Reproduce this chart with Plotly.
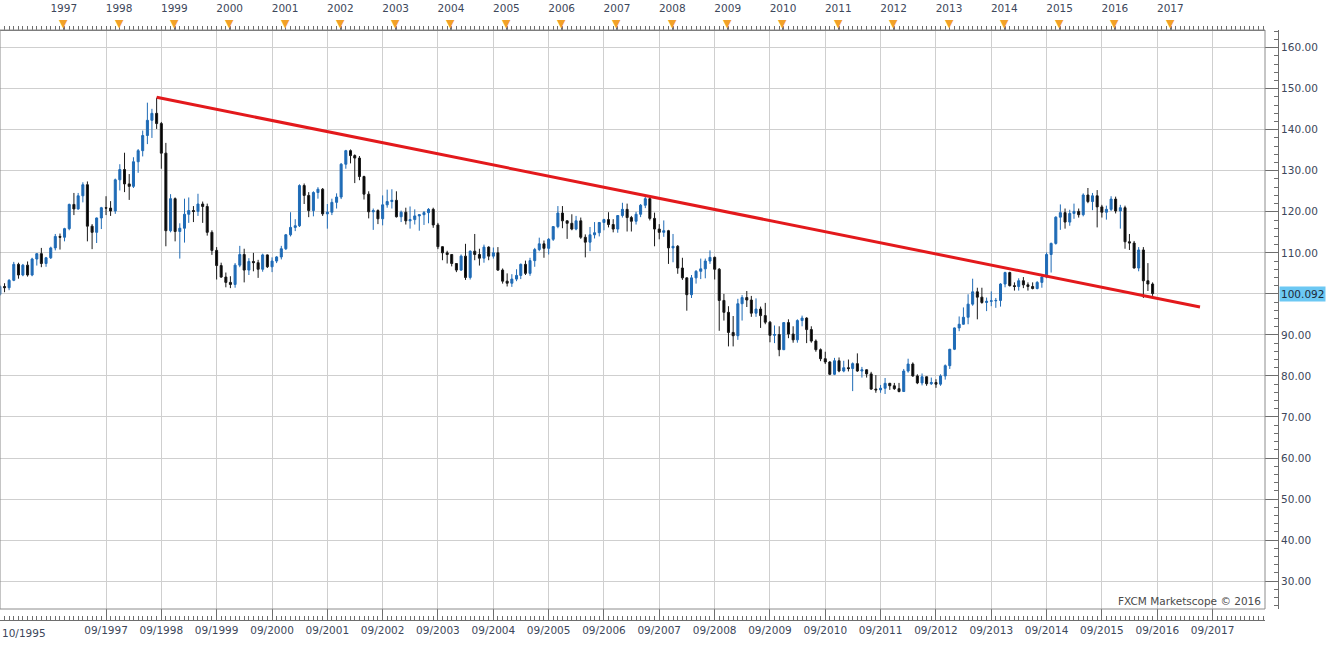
import plotly.graph_objects as go
import pandas as pd

# ---------------- data (monthly USD/JPY candles, Oct 1995 - Aug 2016) ----------------
months = pd.date_range("1995-10-01", periods=251, freq="MS")

opens = [
    99.9, 101.8, 101.5,
    103.3, 107.2, 104.6, 107.0, 104.6, 108.5, 109.8, 107.4, 108.8, 111.2, 114.0, 113.8,
    115.9, 121.8, 120.7, 123.9, 126.6, 116.5, 115.0, 118.5, 121.0, 120.9, 120.2, 127.8,
    130.3, 126.8, 126.2, 132.2, 134.9, 138.6, 142.3, 144.0, 141.5, 134.3, 115.4, 123.2,
    115.2, 116.0, 119.4, 120.3, 120.1, 121.9, 121.3, 115.0, 110.6, 106.9, 104.1, 102.8,
    102.3, 107.0, 109.6, 105.8, 107.9, 107.6, 106.0, 109.5, 106.6, 108.0, 109.0, 111.0,
    114.4, 116.2, 116.6, 126.4, 124.0, 120.3, 124.7, 125.5, 119.5, 119.9, 122.3, 123.6,
    131.6, 134.9, 133.7, 133.1, 128.6, 124.3, 120.0, 120.3, 118.3, 121.7, 122.5, 122.8,
    118.8, 119.9, 117.8, 118.1, 119.0, 119.3, 119.8, 120.6, 116.8, 111.5, 110.0, 109.6,
    107.4, 105.8, 109.2, 104.0, 110.4, 109.6, 108.7, 111.4, 109.2, 110.0, 105.8, 103.1,
    102.6, 103.6, 104.5, 107.2, 105.0, 108.1, 110.8, 112.2, 111.1, 113.3, 116.4, 119.7,
    117.8, 117.2, 115.8, 117.8, 113.8, 112.6, 114.4, 114.9, 117.4, 118.1, 116.9, 115.8,
    119.1, 120.6, 118.6, 117.7, 119.4, 121.6, 123.2, 118.4, 115.8, 115.0, 115.4, 111.2,
    111.6, 106.3, 103.9, 99.8, 103.9, 105.5, 106.1, 108.0, 108.9, 106.0, 98.4, 95.5,
    90.6, 89.8, 97.6, 99.1, 98.5, 95.3, 96.3, 94.7, 93.1, 89.9, 90.1, 86.4,
    93.0, 90.2, 88.8, 93.5, 94.1, 91.3, 88.5, 86.4, 84.2, 83.4, 80.4, 83.7,
    81.2, 82.0, 81.8, 83.0, 81.2, 81.5, 80.5, 76.8, 76.6, 77.0, 78.2, 77.6,
    76.9, 76.2, 81.2, 82.9, 80.0, 78.3, 79.8, 78.1, 78.4, 78.0, 80.0, 82.5,
    86.5, 91.7, 92.6, 94.3, 97.5, 100.5, 99.2, 97.9, 98.2, 98.3, 98.4, 102.4,
    105.2, 102.0, 101.8, 103.2, 102.2, 101.8, 101.3, 102.8, 104.1, 109.6, 112.3, 118.7,
    119.8, 117.5, 119.6, 120.1, 119.3, 124.1, 122.5, 123.9, 121.2, 119.9, 120.6, 123.1,
    120.2, 121.0, 112.7, 112.4, 106.3, 110.7, 103.2, 102.4,
]

highs = [
    102.2, 102.6, 103.6,
    107.8, 107.6, 107.3, 107.9, 108.8, 109.9, 111.2, 109.0, 111.5, 114.6, 114.7, 116.1,
    122.0, 124.6, 124.6, 127.2, 127.4, 117.0, 118.6, 121.2, 123.8, 122.6, 128.1, 131.6,
    134.4, 129.2, 133.3, 135.3, 139.8, 146.6, 145.1, 147.8, 141.9, 136.8, 124.3, 123.5,
    117.2, 123.2, 123.5, 121.4, 124.4, 122.5, 122.0, 115.5, 111.4, 107.6, 105.2, 104.3,
    107.5, 111.7, 111.0, 108.7, 110.0, 108.3, 109.8, 109.6, 108.9, 109.2, 111.7, 114.6,
    119.9, 118.2, 126.7, 126.9, 124.8, 125.0, 126.0, 125.8, 121.9, 123.2, 124.5, 131.9,
    135.1, 135.2, 134.0, 133.6, 128.8, 125.0, 120.8, 120.6, 124.0, 125.4, 125.5, 125.0,
    120.3, 121.0, 121.3, 120.6, 119.4, 120.2, 120.9, 121.0, 117.3, 111.6, 110.5, 109.7,
    107.5, 109.6, 112.2, 110.6, 114.6, 111.0, 112.0, 111.6, 111.3, 111.4, 106.2, 105.0,
    104.8, 106.0, 107.4, 108.1, 108.8, 111.2, 113.7, 113.0, 113.6, 116.5, 121.4, 121.4,
    117.9, 119.4, 119.0, 118.6, 114.5, 116.3, 117.5, 117.5, 118.3, 119.9, 118.2, 119.2,
    122.2, 122.0, 119.0, 120.0, 121.9, 124.1, 123.7, 119.8, 117.0, 117.9, 115.6, 114.6,
    111.9, 108.8, 104.0, 104.6, 105.8, 108.6, 108.6, 110.6, 109.1, 106.3, 100.0, 97.0,
    94.6, 98.8, 99.7, 100.7, 99.5, 98.9, 96.9, 97.8, 93.4, 92.3, 92.1, 93.1,
    93.8, 92.1, 93.8, 94.7, 94.3, 92.1, 88.9, 86.7, 85.9, 83.6, 84.4, 84.5,
    83.7, 84.0, 83.3, 85.5, 82.2, 81.6, 81.0, 80.2, 77.8, 79.5, 78.3, 78.3,
    78.3, 81.7, 84.2, 83.3, 80.4, 80.6, 79.9, 79.6, 79.2, 80.4, 82.8, 86.6,
    91.8, 94.5, 96.7, 99.9, 103.7, 101.5, 101.5, 99.1, 100.6, 99.0, 102.6, 105.4,
    105.4, 102.8, 103.8, 104.1, 102.8, 102.8, 103.1, 104.5, 110.1, 112.5, 118.9, 121.8,
    120.8, 120.5, 122.0, 120.8, 124.5, 125.8, 124.6, 125.3, 121.7, 121.5, 123.8, 123.7,
    121.7, 121.5, 114.6, 112.9, 111.4, 111.4, 107.5, 102.8,
]

lows = [
    99.5, 100.4, 100.9,
    103.1, 103.7, 104.3, 104.2, 104.3, 106.9, 106.5, 106.6, 108.5, 110.6, 110.8, 112.8,
    115.5, 119.2, 120.5, 122.3, 112.8, 110.9, 112.4, 115.8, 119.2, 119.0, 119.5, 125.2,
    124.8, 122.9, 125.8, 129.5, 133.5, 136.5, 138.0, 140.2, 130.5, 111.6, 115.0, 112.8,
    108.6, 112.5, 117.3, 117.5, 119.0, 117.3, 114.2, 109.5, 103.5, 103.9, 101.6, 101.4,
    101.5, 106.5, 102.8, 104.6, 105.5, 103.9, 105.4, 106.3, 105.3, 107.5, 108.4, 110.7,
    114.0, 115.3, 116.3, 121.9, 118.7, 118.9, 123.2, 119.0, 115.9, 119.2, 120.8, 123.1,
    130.5, 131.8, 127.0, 127.7, 123.0, 118.4, 115.6, 117.0, 116.7, 121.0, 120.8, 118.6,
    117.5, 116.9, 115.9, 116.9, 115.4, 116.8, 117.2, 116.1, 110.9, 108.2, 107.4, 106.7,
    105.3, 105.6, 103.4, 103.5, 108.2, 106.9, 107.6, 108.2, 108.6, 105.6, 102.5, 101.8,
    101.7, 103.1, 103.6, 104.6, 104.4, 106.6, 110.4, 108.8, 109.6, 112.9, 116.0, 116.0,
    113.4, 115.5, 115.5, 113.4, 108.9, 110.4, 113.5, 114.0, 115.5, 116.2, 115.0, 114.9,
    118.6, 115.2, 115.2, 116.9, 118.7, 120.9, 117.9, 111.6, 113.3, 113.9, 107.3, 107.7,
    104.9, 103.4, 95.9, 99.0, 102.5, 103.6, 103.8, 107.3, 103.5, 91.0, 93.5, 87.2,
    87.2, 88.8, 93.5, 96.8, 94.4, 94.4, 91.7, 92.6, 88.2, 88.0, 84.8, 86.3,
    89.2, 88.1, 88.1, 92.1, 88.0, 88.1, 85.9, 83.6, 82.9, 80.2, 80.2, 80.9,
    80.9, 81.1, 76.3, 81.0, 79.6, 79.6, 76.6, 75.9, 75.9, 75.6, 76.6, 76.6,
    76.0, 76.1, 80.8, 79.8, 78.0, 77.7, 77.6, 77.8, 77.1, 77.6, 79.1, 81.7,
    86.3, 90.9, 92.5, 92.6, 97.1, 93.8, 97.6, 95.8, 97.0, 96.6, 96.9, 101.6,
    101.8, 100.8, 100.8, 101.4, 100.8, 101.1, 101.1, 101.5, 103.8, 105.2, 112.0, 115.6,
    115.9, 116.6, 118.3, 118.6, 118.9, 122.1, 120.4, 116.2, 118.6, 118.1, 120.2, 119.6,
    115.9, 111.0, 110.7, 106.2, 105.5, 99.0, 100.7, 99.5,
]

closes = [
    101.8, 101.5, 103.3,
    107.2, 104.6, 107.0, 104.6, 108.5, 109.8, 107.4, 108.8, 111.2, 114.0, 113.8, 115.9,
    121.8, 120.7, 123.9, 126.6, 116.5, 115.0, 118.5, 121.0, 120.9, 120.2, 127.8, 130.3,
    126.8, 126.2, 132.2, 134.9, 138.6, 142.3, 144.0, 141.5, 134.3, 115.4, 123.2, 115.2,
    116.0, 119.4, 120.3, 120.1, 121.9, 121.3, 115.0, 110.6, 106.9, 104.1, 102.8, 102.3,
    107.0, 109.6, 105.8, 107.9, 107.6, 106.0, 109.5, 106.6, 108.0, 109.0, 111.0, 114.4,
    116.2, 116.6, 126.4, 124.0, 120.3, 124.7, 125.5, 119.5, 119.9, 122.3, 123.6, 131.6,
    134.9, 133.7, 133.1, 128.6, 124.3, 120.0, 120.3, 118.3, 121.7, 122.5, 122.8, 118.8,
    119.9, 117.8, 118.1, 119.0, 119.3, 119.8, 120.6, 116.8, 111.5, 110.0, 109.6, 107.4,
    105.8, 109.2, 104.0, 110.4, 109.6, 108.7, 111.4, 109.2, 110.0, 105.8, 103.1, 102.6,
    103.6, 104.5, 107.2, 105.0, 108.1, 110.8, 112.2, 111.1, 113.3, 116.4, 119.7, 117.8,
    117.2, 115.8, 117.8, 113.8, 112.6, 114.4, 114.9, 117.4, 118.1, 116.9, 115.8, 119.1,
    120.6, 118.6, 117.7, 119.4, 121.6, 123.2, 118.4, 115.8, 115.0, 115.4, 111.2, 111.6,
    106.3, 103.9, 99.8, 103.9, 105.5, 106.1, 108.0, 108.9, 106.0, 98.4, 95.5, 90.6,
    89.8, 97.6, 99.1, 98.5, 95.3, 96.3, 94.7, 93.1, 89.9, 90.1, 86.4, 93.0,
    90.2, 88.8, 93.5, 94.1, 91.3, 88.5, 86.4, 84.2, 83.4, 80.4, 83.7, 81.2,
    82.0, 81.8, 83.0, 81.2, 81.5, 80.5, 76.8, 76.6, 77.0, 78.2, 77.6, 76.9,
    76.2, 81.2, 82.9, 80.0, 78.3, 79.8, 78.1, 78.4, 78.0, 80.0, 82.5, 86.5,
    91.7, 92.6, 94.3, 97.5, 100.5, 99.2, 97.9, 98.2, 98.3, 98.4, 102.4, 105.2,
    102.0, 101.8, 103.2, 102.2, 101.8, 101.3, 102.8, 104.1, 109.6, 112.3, 118.7, 119.8,
    117.5, 119.6, 120.1, 119.3, 124.1, 122.5, 123.9, 121.2, 119.9, 120.6, 123.1, 120.2,
    121.0, 112.7, 112.4, 106.3, 110.7, 103.2, 102.4, 100.092,
]

# trendline drawn on the chart (from the Aug-1998 high)
trend_x = ["1998-08-01", "2017-06-10"]
trend_y = [147.9, 96.8]

last_price = 100.092

# axis labels
price_ticks = [30, 40, 50, 60, 70, 80, 90, 100, 110, 120, 130, 140, 150, 160]
price_labels = ["30.00", "40.00", "50.00", "60.00", "70.00", "80.00", "90.00", "",
                "110.00", "120.00", "130.00", "140.00", "150.00", "160.00"]
bottom_tick_years = list(range(1997, 2018))
bottom_tick_vals = [f"{y}-09-01" for y in bottom_tick_years]
bottom_tick_text = [f"09/{y}" for y in bottom_tick_years]
top_years = list(range(1997, 2018))
top_tick_vals = [f"{y-1}-11-26" for y in top_years]
top_tick_text = [str(y) for y in top_years]

# ---------------- layout geometry ----------------
W, H = 1332, 645
AX_RIGHT, AX_BOTTOM = 1278, 620      # outer axis lines
PLOT_RIGHT, PLOT_BOTTOM, PLOT_TOP = 1265, 609, 30
paper_w = AX_RIGHT
paper_h = AX_BOTTOM - PLOT_TOP
x_dom = [0, PLOT_RIGHT / paper_w]
y_dom = [(AX_BOTTOM - PLOT_BOTTOM) / paper_h, 1]

x_range = ["1995-10-02", "2018-08-13"]
y_range = [23.2, 164.31]

FONT = "DejaVu Sans"
TXT = "#3d475a"
GRID = "#cfcfcf"
AXC = "#6e6e6e"

fig = go.Figure()

fig.add_trace(go.Candlestick(
    x=months, open=opens, high=highs, low=lows, close=closes,
    increasing=dict(line=dict(color="#1f6bb6", width=1), fillcolor="#1f6bb6"),
    decreasing=dict(line=dict(color="#1a1a1a", width=1), fillcolor="#000000"),
    whiskerwidth=0, showlegend=False, hoverinfo="skip",
    xaxis="x", yaxis="y",
))

fig.add_trace(go.Scatter(
    x=trend_x, y=trend_y, mode="lines",
    line=dict(color="#e3191c", width=3),
    showlegend=False, hoverinfo="skip", xaxis="x", yaxis="y",
))

annotations = []
# orange year markers on the top axis
for v in top_tick_vals:
    annotations.append(dict(
        x=v, xref="x2", y=1, yref="paper", yanchor="bottom", yshift=-2,
        text="▼", showarrow=False, font=dict(size=11, color="#f2a127", family=FONT),
    ))
# first date label at the left edge
annotations.append(dict(
    x=0, xref="paper", y=0, yref="paper", xanchor="left", yanchor="top", yshift=-5,
    text="10/1995", showarrow=False, font=dict(size=10.5, color=TXT, family=FONT),
))
# current price tag
annotations.append(dict(
    x=1, xref="paper", y=last_price, yref="y", xanchor="left", yanchor="middle",
    xshift=1, text="100.092", showarrow=False, bgcolor="#6cc8f3",
    borderpad=1, font=dict(size=10.5, color="#1d2a3a", family=FONT),
))
# watermark
annotations.append(dict(
    x=x_dom[1], xref="paper", y=y_dom[0], yref="paper", xanchor="right", yanchor="bottom",
    xshift=-2, yshift=0, text="FXCM Marketscope © 2016", showarrow=False,
    font=dict(size=10.5, color="#4a4a4a", family=FONT),
))

fig.update_layout(
    width=W, height=H,
    margin=dict(l=0, r=W - AX_RIGHT, t=PLOT_TOP, b=H - AX_BOTTOM, pad=0),
    paper_bgcolor="white", plot_bgcolor="white",
    font=dict(family=FONT, size=10.5, color=TXT),
    boxgap=0.32,
    xaxis=dict(
        type="date", range=x_range, domain=x_dom, anchor="free", position=0,
        rangeslider=dict(visible=False),
        tickmode="array", tickvals=bottom_tick_vals, ticktext=bottom_tick_text,
        ticks="inside", ticklen=11, tickcolor=AXC, tickwidth=1,
        showgrid=True, gridcolor=GRID, gridwidth=1,
        showline=True, linecolor=AXC, linewidth=1,
        minor=dict(dtick="M1", tick0="1995-10-01", ticks="inside", ticklen=4,
                   tickcolor=AXC, showgrid=False),
        tickfont=dict(size=10.5, color=TXT, family=FONT),
        zeroline=False, fixedrange=True,
    ),
    xaxis2=dict(
        type="date", range=x_range, domain=x_dom, overlaying="x", anchor="free",
        position=1, side="top",
        tickmode="array", tickvals=top_tick_vals, ticktext=top_tick_text,
        ticks="outside", ticklen=10, tickcolor=AXC, ticklabelstandoff=4,
        showgrid=False, showline=True, linecolor=AXC,
        minor=dict(dtick="M1", tick0="1995-10-01", ticks="outside", ticklen=4,
                   tickcolor=AXC, showgrid=False),
        tickfont=dict(size=10.5, color=TXT, family=FONT),
        zeroline=False,
    ),
    yaxis=dict(
        range=y_range, domain=y_dom, anchor="free", position=1, side="right",
        tickmode="array", tickvals=price_ticks, ticktext=price_labels,
        ticks="inside", ticklen=13, tickcolor=AXC,
        showgrid=True, gridcolor=GRID, gridwidth=1,
        showline=True, linecolor=AXC,
        minor=dict(dtick=2, tick0=0, ticks="inside", ticklen=4, tickcolor=AXC, showgrid=False),
        tickfont=dict(size=10.5, color=TXT, family=FONT),
        zeroline=False, fixedrange=True,
    ),
    annotations=annotations,
    shapes=[dict(type="rect", xref="x domain", yref="y domain", x0=0, x1=1, y0=0, y1=1,
                 line=dict(color="#8c8c8c", width=1), fillcolor="rgba(0,0,0,0)", layer="above")],
)

fig.write_html("out.html")
